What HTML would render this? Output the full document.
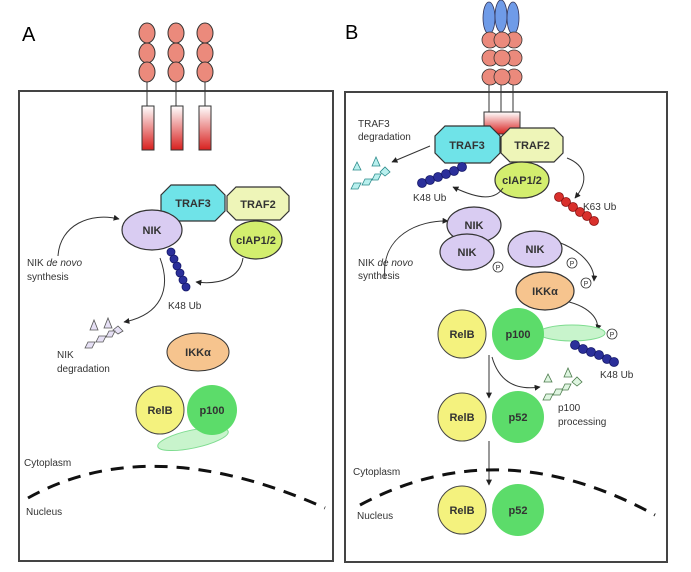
<!DOCTYPE html>
<html><head><meta charset="utf-8"><style>
body{margin:0;background:#fff}
svg{display:block;font-family:"Liberation Sans",Arial,sans-serif}
</style></head><body>
<svg width="691" height="572" viewBox="0 0 691 572">
<defs>
<linearGradient id="rg" x1="0" y1="0" x2="0" y2="1"><stop offset="0" stop-color="#fff"/><stop offset="1" stop-color="#d8201e"/></linearGradient>
<marker id="ar" viewBox="0 0 10 10" refX="9" refY="5" markerWidth="6" markerHeight="6" orient="auto"><path d="M0,0L10,5L0,10z" fill="#222"/></marker>
</defs>
<text x="22" y="41" font-size="20">A</text>
<text x="345" y="39" font-size="20">B</text>
<!-- Panel A -->
<rect x="19" y="91" width="314" height="470" fill="none" stroke="#444" stroke-width="2"/>
<g stroke="#333" stroke-width="1">
<line x1="147" y1="80" x2="147" y2="106"/><line x1="176" y1="80" x2="176" y2="106"/><line x1="205" y1="80" x2="205" y2="106"/>
<g fill="#eb8a7c">
<ellipse cx="147" cy="33" rx="8" ry="10"/><ellipse cx="147" cy="53" rx="8" ry="10"/><ellipse cx="147" cy="72" rx="8" ry="10"/>
<ellipse cx="176" cy="33" rx="8" ry="10"/><ellipse cx="176" cy="53" rx="8" ry="10"/><ellipse cx="176" cy="72" rx="8" ry="10"/>
<ellipse cx="205" cy="33" rx="8" ry="10"/><ellipse cx="205" cy="53" rx="8" ry="10"/><ellipse cx="205" cy="72" rx="8" ry="10"/>
</g>
<rect x="142" y="106" width="12" height="44" fill="url(#rg)"/><rect x="171" y="106" width="12" height="44" fill="url(#rg)"/><rect x="199" y="106" width="12" height="44" fill="url(#rg)"/>
</g>
<g stroke="#333" stroke-width="1.2">
<polygon points="171,185 215,185 225,195 225,211 215,221 171,221 161,211 161,195" fill="#6fe3e8"/>
<polygon points="236,187 280,187 289,196 289,211 280,220 236,220 227,211 227,196" fill="#eef5b8"/>
<ellipse cx="152" cy="230" rx="30" ry="20" fill="#d9ccf2"/>
<ellipse cx="256" cy="240" rx="26" ry="19" fill="#d3ee6e"/>
</g>
<g fill="#2b2f9a" stroke="#14186a" stroke-width=".8">
<circle cx="171" cy="252" r="4"/><circle cx="174" cy="259" r="4"/><circle cx="177" cy="266" r="4"/><circle cx="180" cy="273" r="4"/><circle cx="183" cy="280" r="4"/><circle cx="186" cy="287" r="4"/>
</g>
<g font-size="11" font-weight="bold" fill="#333" text-anchor="middle">
<text x="193" y="207">TRAF3</text><text x="258" y="208">TRAF2</text><text x="152" y="234">NIK</text><text x="256" y="244">cIAP1/2</text>
</g>
<g fill="none" stroke="#333" stroke-width="1" marker-end="url(#ar)">
<path d="M58,256 C60,225 90,212 119,219"/>
<path d="M160,258 C172,290 160,315 124,322"/>
<path d="M243,258 C240,278 220,285 196,282"/>
</g>
<g font-size="10" fill="#333">
<text x="27" y="266">NIK <tspan font-style="italic">de novo</tspan></text><text x="27" y="280">synthesis</text>
<text x="168" y="309">K48 Ub</text>
<text x="57" y="358">NIK</text><text x="57" y="372">degradation</text>
</g>
<g fill="#e6e0f5" stroke="#555" stroke-width=".8">
<polygon points="90,330 94,320 98,330"/><polygon points="104,328 108,318 112,328"/><polygon points="113,330 118,326 123,331 118,334"/>
<polygon points="85,348 88,342 95,342 92,348"/><polygon points="96,342 99,336 106,336 103,342"/><polygon points="106,337 109,331 115,331 112,337"/>
</g>
<ellipse cx="198" cy="352" rx="31" ry="19" fill="#f6c48e" stroke="#333"/>
<text x="198" y="356" font-size="11" font-weight="bold" fill="#333" text-anchor="middle">IKKα</text>
<ellipse cx="193" cy="439" rx="36" ry="9" fill="#c8f4cc" stroke="#7fdc90" transform="rotate(-12 193 439)"/>
<circle cx="212" cy="410" r="25" fill="#5cdc6a"/>
<circle cx="160" cy="410" r="24" fill="#f4f27e" stroke="#444"/>
<g font-size="11" font-weight="bold" fill="#333" text-anchor="middle"><text x="160" y="414">RelB</text><text x="212" y="414">p100</text></g>
<text x="24" y="466" font-size="10" fill="#333">Cytoplasm</text>
<text x="26" y="515" font-size="10" fill="#333">Nucleus</text>
<path d="M28,498 Q150,430 325,508" fill="none" stroke="#111" stroke-width="3" stroke-dasharray="13,9"/>
<!-- Panel B -->
<rect x="345" y="92" width="322" height="470" fill="none" stroke="#444" stroke-width="2"/>
<g fill="#6f9be8" stroke="#335" stroke-width=".8">
<ellipse cx="489" cy="18" rx="6" ry="16"/><ellipse cx="501" cy="16" rx="6" ry="16"/><ellipse cx="513" cy="18" rx="6" ry="16"/>
</g>
<g fill="#eb8a7c" stroke="#333" stroke-width=".8">
<circle cx="490" cy="40" r="8"/><circle cx="514" cy="40" r="8"/><circle cx="502" cy="40" r="8"/>
<circle cx="490" cy="58" r="8"/><circle cx="514" cy="58" r="8"/><circle cx="502" cy="58" r="8"/>
<circle cx="490" cy="77" r="8"/><circle cx="514" cy="77" r="8"/><circle cx="502" cy="77" r="8"/>
</g>
<g stroke="#333" stroke-width="1">
<line x1="489" y1="85" x2="489" y2="112"/><line x1="501" y1="85" x2="501" y2="112"/><line x1="513" y1="85" x2="513" y2="112"/>
<rect x="484" y="112" width="36" height="22" fill="url(#rg)"/>
</g>
<g stroke="#333" stroke-width="1.2">
<polygon points="445,126 490,126 500,136 500,153 490,163 445,163 435,153 435,136" fill="#6fe3e8"/>
<polygon points="510,128 554,128 563,137 563,153 554,162 510,162 501,153 501,137" fill="#eef5b8"/>
<ellipse cx="522" cy="180" rx="27" ry="18" fill="#d3ee6e"/>
</g>
<g font-size="11" font-weight="bold" fill="#333" text-anchor="middle"><text x="467" y="149">TRAF3</text><text x="532" y="149">TRAF2</text><text x="522" y="184">cIAP1/2</text></g>
<g fill="#2b2f9a" stroke="#14186a" stroke-width=".8">
<circle cx="422" cy="183" r="4.5"/><circle cx="430" cy="180" r="4.5"/><circle cx="438" cy="177" r="4.5"/><circle cx="446" cy="174" r="4.5"/><circle cx="454" cy="171" r="4.5"/><circle cx="462" cy="167" r="4.5"/>
</g>
<g fill="#d9302c" stroke="#8a1010" stroke-width=".8">
<circle cx="559" cy="197" r="4.5"/><circle cx="566" cy="202" r="4.5"/><circle cx="573" cy="207" r="4.5"/><circle cx="580" cy="212" r="4.5"/><circle cx="587" cy="216" r="4.5"/><circle cx="594" cy="221" r="4.5"/>
</g>
<g font-size="10" fill="#333">
<text x="358" y="127">TRAF3</text><text x="358" y="140">degradation</text>
<text x="413" y="201">K48 Ub</text><text x="583" y="210">K63 Ub</text>
<text x="358" y="266">NIK <tspan font-style="italic">de novo</tspan></text><text x="358" y="279">synthesis</text>
<text x="600" y="378">K48 Ub</text>
<text x="558" y="411">p100</text><text x="558" y="425">processing</text>
<text x="353" y="475">Cytoplasm</text><text x="357" y="519">Nucleus</text>
</g>
<g fill="#b9f0ee" stroke="#2a8a8a" stroke-width=".8">
<polygon points="353,170 357,162 361,170"/><polygon points="372,166 376,157 380,166"/><polygon points="380,172 385,167 390,172 385,176"/>
<polygon points="351,189 354,183 361,183 358,189"/><polygon points="362,185 365,179 372,179 369,185"/><polygon points="372,180 375,174 381,174 378,180"/>
</g>
<g fill="none" stroke="#333" stroke-width="1" marker-end="url(#ar)">
<path d="M430,146 L392,162"/>
<path d="M503,188 C495,200 480,200 453,187"/>
<path d="M567,158 C585,165 590,180 575,198"/>
<path d="M385,279 C380,235 420,220 448,221"/>
<path d="M558,242 C580,250 595,265 594,281"/>
<path d="M560,300 C590,305 600,320 597,330"/>
<path d="M489,355 L489,398"/>
<path d="M492,357 C500,385 520,390 540,387"/>
<path d="M489,441 L489,485"/>
</g>
<g stroke="#333" stroke-width="1.2">
<ellipse cx="474" cy="225" rx="27" ry="18" fill="#d9ccf2"/>
<ellipse cx="467" cy="252" rx="27" ry="18" fill="#d9ccf2"/>
<ellipse cx="535" cy="249" rx="27" ry="18" fill="#d9ccf2"/>
<ellipse cx="545" cy="291" rx="29" ry="19" fill="#f6c48e"/>
</g>
<g font-size="11" font-weight="bold" fill="#333" text-anchor="middle"><text x="474" y="229">NIK</text><text x="467" y="256">NIK</text><text x="535" y="253">NIK</text><text x="545" y="295">IKKα</text></g>
<g fill="#fff" stroke="#333" stroke-width=".8" font-size="7" text-anchor="middle">
<circle cx="498" cy="267" r="5"/><circle cx="572" cy="263" r="5"/><circle cx="586" cy="283" r="5"/><circle cx="612" cy="334" r="5"/>
</g>
<g font-size="7" fill="#333" text-anchor="middle"><text x="498" y="270">P</text><text x="572" y="266">P</text><text x="586" y="286">P</text><text x="612" y="337">P</text></g>
<ellipse cx="572" cy="333" rx="33" ry="8" fill="#c8f4cc" stroke="#7fdc90"/>
<g fill="#2b2f9a" stroke="#14186a" stroke-width=".8">
<circle cx="575" cy="345" r="4.5"/><circle cx="583" cy="349" r="4.5"/><circle cx="591" cy="352" r="4.5"/><circle cx="599" cy="355" r="4.5"/><circle cx="607" cy="359" r="4.5"/><circle cx="614" cy="362" r="4.5"/>
</g>
<g fill="#def5e0" stroke="#4a7a4a" stroke-width=".8">
<polygon points="544,382 548,374 552,382"/><polygon points="564,377 568,368 572,377"/><polygon points="572,382 577,377 582,382 577,386"/>
<polygon points="543,400 546,394 553,394 550,400"/><polygon points="553,395 556,389 563,389 560,395"/><polygon points="562,390 565,384 571,384 568,390"/>
</g>
<circle cx="518" cy="334" r="26" fill="#5cdc6a"/><circle cx="462" cy="334" r="24" fill="#f4f27e" stroke="#444"/>
<circle cx="518" cy="417" r="26" fill="#5cdc6a"/><circle cx="462" cy="417" r="24" fill="#f4f27e" stroke="#444"/>
<circle cx="518" cy="510" r="26" fill="#5cdc6a"/><circle cx="462" cy="510" r="24" fill="#f4f27e" stroke="#444"/>
<g font-size="11" font-weight="bold" fill="#333" text-anchor="middle">
<text x="462" y="338">RelB</text><text x="518" y="338">p100</text>
<text x="462" y="421">RelB</text><text x="518" y="421">p52</text>
<text x="462" y="514">RelB</text><text x="518" y="514">p52</text>
</g>
<path d="M360,505 Q500,430 655,515" fill="none" stroke="#111" stroke-width="3" stroke-dasharray="13,9"/>
</svg>
</body></html>
